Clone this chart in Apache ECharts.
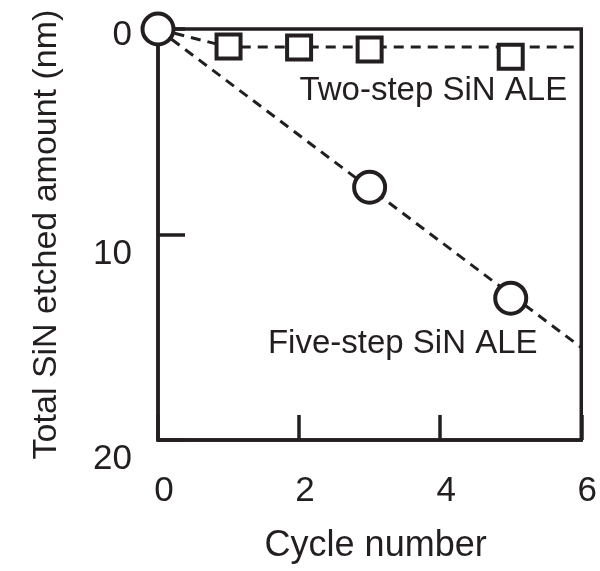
<!DOCTYPE html>
<html>
<head>
<meta charset="utf-8">
<script src="https://cdn.jsdelivr.net/npm/echarts@6/dist/echarts.min.js"></script>
<style>html,body{margin:0;padding:0;background:#fff}#c{width:600px;height:571px}</style>
</head>
<body>
<div id="c"></div>
<script>
// Data
const xTicks = [0, 2, 4, 6];
const yTicks = [0, 10, 20];
const fiveStepX = [0, 3, 5];
const fiveStepY = [0, 7.7, 13.1];
const twoStepX = [1, 2, 3, 5];
const twoStepY = [0.85, 0.9, 1.0, 1.35];
const twoStepGuideX = [0, 1, 6];
const twoStepGuideY = [0, 0.88, 0.88];
const fiveStepGuideX = [0, 6];
const fiveStepGuideY = [0, 15.5];
const labelNames = ['Two-step SiN ALE', 'Five-step SiN ALE'];
const labelX = [5.80, 5.38];
const labelY = [3.0, 15.3];

const ink = '#231f20';
const font = 'Liberation Sans, Arial, Helvetica, sans-serif';
const zip = (a, b) => a.map((v, i) => [v, b[i]]);

const chart = echarts.init(document.getElementById('c'), null, {renderer: 'canvas'});
chart.setOption({
  animation: false,
  backgroundColor: '#fff',
  grid: {left: 158, top: 29, right: 18, bottom: 131, show: true, borderColor: ink, borderWidth: 3.5, backgroundColor: 'transparent'},
  xAxis: {
    type: 'value', position: 'bottom', min: xTicks[0], max: xTicks[xTicks.length - 1], interval: 2,
    name: 'Cycle number', nameLocation: 'middle', nameGap: 88,
    nameTextStyle: {fontSize: 36, color: ink, fontFamily: font, padding: [0, 0, 0, 12]},
    axisLine: {show: true, onZero: false, lineStyle: {color: ink, width: 3.5}},
    axisTick: {show: true, inside: true, length: 25, lineStyle: {color: ink, width: 3.5}},
    axisLabel: {fontSize: 35, color: ink, fontFamily: font, margin: 34, padding: [0, 0, 0, 12]},
    splitLine: {show: false}
  },
  yAxis: {
    type: 'value', inverse: true, min: yTicks[0], max: yTicks[yTicks.length - 1], interval: 10,
    name: 'Total SiN etched amount (nm)', nameLocation: 'middle', nameGap: 94,
    nameTextStyle: {fontSize: 34, color: ink, fontFamily: font},
    axisLine: {show: true, onZero: false, lineStyle: {color: ink, width: 3.5}},
    axisTick: {show: true, inside: true, length: 27, lineStyle: {color: ink, width: 3.5}},
    axisLabel: {
      fontSize: 35, color: ink, fontFamily: font, margin: 26, verticalAlign: 'top',
      formatter: v => v === 0 ? '{z|0}' : '{n|' + v + '}',
      rich: {z: {fontSize: 35, color: ink, fontFamily: font, lineHeight: 13}, n: {fontSize: 35, color: ink, fontFamily: font, lineHeight: 39}}
    },
    splitLine: {show: false}
  },
  series: [
    {
      type: 'line', data: zip(twoStepGuideX, twoStepGuideY), symbol: 'none', z: 1, silent: true,
      lineStyle: {color: ink, width: 3, type: [10, 7]}
    },
    {
      type: 'line', data: zip(fiveStepGuideX, fiveStepGuideY), symbol: 'none', z: 1, silent: true,
      lineStyle: {color: ink, width: 3, type: [10, 7]}
    },
    {
      type: 'scatter', data: zip(twoStepX, twoStepY), symbol: 'rect', symbolSize: 24, clip: false, z: 5,
      itemStyle: {color: '#fff', borderColor: ink, borderWidth: 4, opacity: 1}
    },
    {
      type: 'scatter', data: zip(fiveStepX, fiveStepY), symbol: 'circle', symbolSize: 31, clip: false, z: 5,
      itemStyle: {color: '#fff', borderColor: ink, borderWidth: 4, opacity: 1}
    },
    {
      type: 'scatter', symbolSize: 0, z: 6, silent: true,
      itemStyle: {opacity: 1},
      data: labelNames.map((n, i) => ({name: n, value: [labelX[i], labelY[i]]})),
      label: {show: true, position: 'inside', align: 'right', verticalAlign: 'middle', formatter: p => p.name,
        fontSize: 33, color: ink, opacity: 1, fontFamily: font}
    }
  ]
});
</script>
</body>
</html>
